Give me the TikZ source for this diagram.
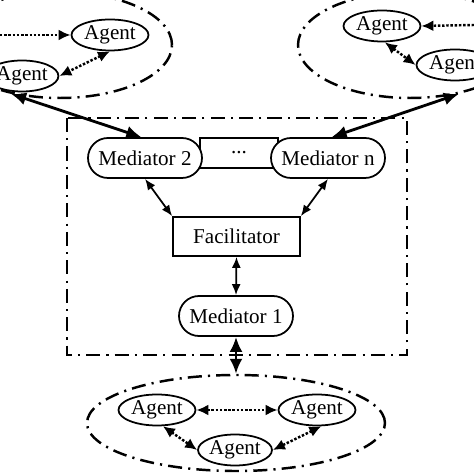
\documentclass[tikz,border=0pt]{standalone}
\usepackage{fontspec}
\setmainfont{Liberation Serif}
\usetikzlibrary{arrows.meta,shapes.geometric}

\tikzset{
  agent/.style={draw, ellipse, line width=1pt, inner sep=0pt, minimum width=1.54cm, minimum height=0.62cm},
  mediator/.style={draw, line width=1pt, rounded corners=0.4cm, minimum width=2.28cm, minimum height=0.8cm, inner sep=0pt},
  cluster/.style={draw, ellipse, line width=1.4pt, inner sep=0pt, dash pattern=on 8pt off 3.5pt on 1.2pt off 3.5pt},
  talk/.style={densely dotted, line width=1.4pt, {Latex[length=2.4mm,width=2.2mm]}-{Latex[length=2.4mm,width=2.2mm]}},
  link/.style={line width=1pt, {Latex[length=2.2mm,width=1.8mm]}-{Latex[length=2.2mm,width=1.8mm]}},
  bigLink/.style={line width=1.6pt, {Latex[length=3mm,width=2.6mm]}-{Latex[length=3mm,width=2.6mm]}}
}

\begin{document}
\begin{tikzpicture}[font=\fontsize{12}{14}\selectfont]
  \clip (0,0) rectangle (9.48,9.48);

  % upper left group
  \node[cluster, minimum width=4.48cm, minimum height=2.12cm] (groupL) at (1.2,8.58) {};
  \node[agent] (a1) at (2.2,8.78) {Agent};
  \node[agent, minimum width=1.44cm] (a2) at (0.44,7.96) {Agent};
  \coordinate (inL) at (0,8.78);
  \draw[densely dotted, line width=1.4pt, -{Latex[length=2.4mm,width=2.2mm]}] (inL) -- (a1.west);
  \draw[talk] (a1.south) -- (a2.east);

  % upper right group
  \node[cluster, minimum width=4.48cm, minimum height=2.12cm] (groupR) at (8.2,8.58) {};
  \node[agent] (b1) at (7.64,8.96) {Agent};
  \node[agent] (b2) at (9.1,8.18) {Agent};
  \coordinate (inR) at (9.48,8.98);
  \draw[densely dotted, line width=1.4pt, -{Latex[length=2.4mm,width=2.2mm]}] (inR) -- (b1.east);
  \draw[talk] (b1.280) -- (b2.west);

  % mediation frame
  \draw[line width=1.5pt, dash pattern=on 8pt off 3.5pt on 1.2pt off 3.5pt] (1.34,7.12) rectangle (8.14,2.38);
  \node[draw, line width=0.7pt, minimum width=1.56cm, minimum height=0.6cm] (more) at (4.78,6.42) {...};
  \node[mediator, fill=white] (med2) at (2.9,6.32) {Mediator 2};
  \node[mediator, fill=white] (medn) at (6.56,6.32) {Mediator n};
  \node[draw, line width=1pt, minimum width=2.54cm, minimum height=0.78cm] (fac) at (4.73,4.75) {Facilitator};
  \node[mediator] (med1) at (4.72,3.16) {Mediator 1};

  \draw[link] (med2.south) -- (fac.north west);
  \draw[link] (medn.south) -- (fac.north east);
  \draw[link] (fac.south) -- (med1.north);

  % lower group
  \node[cluster, minimum width=5.96cm, minimum height=1.92cm] (groupB) at (4.72,1.02) {};
  \node[agent] (c1) at (3.14,1.28) {Agent};
  \node[agent] (c2) at (6.34,1.28) {Agent};
  \node[agent, minimum width=1.48cm] (c3) at (4.7,0.48) {Agent};
  \draw[talk] (c1.east) -- (c2.west);
  \draw[talk] (c1.290) -- (c3.west);
  \draw[talk] (c2.-75) -- (c3.east);

  \draw[bigLink] (groupL.225) -- (med2.100);
  \draw[bigLink] (groupR.-45) -- (medn.80);
  \draw[bigLink] (med1.south) -- (groupB.north);
\end{tikzpicture}
\end{document}
